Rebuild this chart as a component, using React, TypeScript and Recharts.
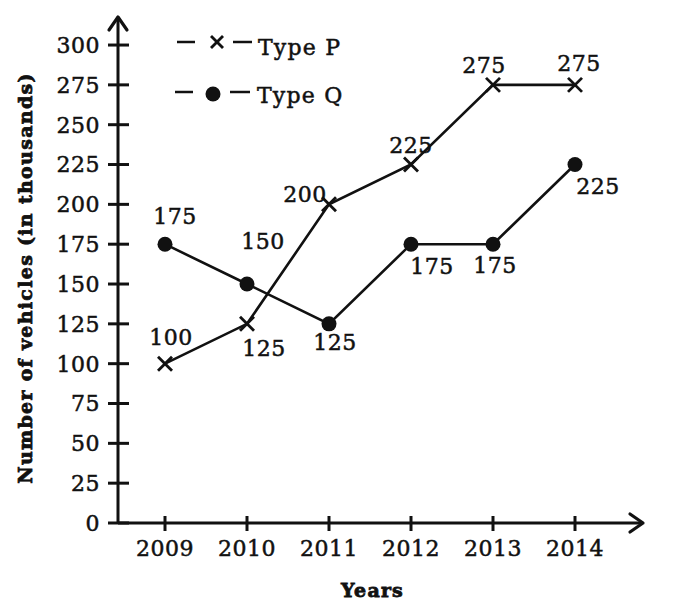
import React from 'react';
import { LineChart, Line, XAxis, YAxis, Legend, LabelList } from 'recharts';

const years = ['2009', '2010', '2011', '2012', '2013', '2014'];
const typeP = [100, 125, 200, 225, 275, 275];
const typeQ = [175, 150, 125, 175, 175, 225];
const yTicks = [0, 25, 50, 75, 100, 125, 150, 175, 200, 225, 250, 275, 300];
const seriesNames = ['Type P', 'Type Q'];

const data = years.map((year, i) => ({ year, p: typeP[i], q: typeQ[i] }));

// label placement offsets (relative to each point)
const pLabelOffsets = [
  [6, -27], [17, 24], [-24, -10], [0, -19], [-9, -20], [4, -22],
];
const qLabelOffsets = [
  [10, -28], [16, -43], [6, 18], [21, 22], [2, 21], [23, 22],
];

const INK = '#111';
const FONT = '"DejaVu Serif", serif';
const NUM_STYLE: any = {
  fontFamily: FONT,
  fontSize: 22,
  fill: INK,
  stroke: INK,
  strokeWidth: 0.5,
  letterSpacing: 0.5,
};

const YTick = (props: any) => {
  const { x, y, payload } = props;
  return (
    <g>
      <line x1={x - 10} x2={x + 11} y1={y} y2={y} stroke={INK} strokeWidth={3} />
      <text x={x - 18} y={y} dy="0.36em" textAnchor="end" {...NUM_STYLE}>
        {payload.value}
      </text>
    </g>
  );
};

const XTick = (props: any) => {
  const { x, y, payload } = props;
  return (
    <g>
      <line x1={x} x2={x} y1={y - 7} y2={y + 8} stroke={INK} strokeWidth={3} />
      <text x={x} y={y + 33} textAnchor="middle" {...NUM_STYLE}>
        {payload.value}
      </text>
    </g>
  );
};

const CrossDot = (props: any) => {
  const { cx, cy, index } = props;
  if (cx == null || cy == null) return null;
  const a = 7;
  return (
    <g key={`p-${index}`}>
      <line x1={cx - a} y1={cy - a} x2={cx + a} y2={cy + a} stroke={INK} strokeWidth={2.8} />
      <line x1={cx - a} y1={cy + a} x2={cx + a} y2={cy - a} stroke={INK} strokeWidth={2.8} />
    </g>
  );
};

const CircleDot = (props: any) => {
  const { cx, cy, index } = props;
  if (cx == null || cy == null) return null;
  return <circle key={`q-${index}`} cx={cx} cy={cy} r={7.5} fill={INK} />;
};

const makeLabel = (offsets: number[][]) => (props: any) => {
  const { x, y, value, index } = props;
  const [dx, dy] = offsets[index] || [0, -20];
  return (
    <text x={x + dx} y={y + dy} dy="0.36em" textAnchor="middle" {...NUM_STYLE}>
      {value}
    </text>
  );
};

const LegendContent = () => {
  return (
    <svg width={220} height={100} style={{ display: 'block' }}>
      <g>
        <line x1={17} x2={35} y1={22} y2={22} stroke={INK} strokeWidth={2.5} />
        <line x1={51} y1={16} x2={63} y2={28} stroke={INK} strokeWidth={2.8} />
        <line x1={51} y1={28} x2={63} y2={16} stroke={INK} strokeWidth={2.8} />
        <line x1={73} x2={92} y1={22} y2={22} stroke={INK} strokeWidth={2.5} />
        <text x={98} y={35} {...NUM_STYLE} letterSpacing={1.2}>{seriesNames[0]}</text>
      </g>
      <g>
        <line x1={15} x2={33} y1={72} y2={72} stroke={INK} strokeWidth={2.5} />
        <circle cx={53} cy={74} r={7.5} fill={INK} />
        <line x1={70} x2={90} y1={72} y2={72} stroke={INK} strokeWidth={2.5} />
        <text x={97} y={83} {...NUM_STYLE} letterSpacing={1.2}>{seriesNames[1]}</text>
      </g>
    </svg>
  );
};

const YTitle = (props: any) => {
  const { viewBox } = props;
  const cx = viewBox.x + 25;
  const cy = viewBox.y + viewBox.height / 2 + 8;
  return (
    <text x={cx} y={cy} transform={`rotate(-90 ${cx} ${cy})`} textAnchor="middle" dy="0.36em"
      fontFamily={FONT} fontWeight="bold" fontSize={19} fill={INK} stroke={INK} strokeWidth={0.8} letterSpacing={1.3}>
      Number of vehicles (in thousands)
    </text>
  );
};

const XTitle = (props: any) => {
  const { viewBox } = props;
  const cx = viewBox.x + viewBox.width / 2 - 8;
  return (
    <text x={cx} y={viewBox.y + 74} textAnchor="middle" fontFamily={FONT} fontWeight="bold" fontSize={19}
      fill={INK} stroke={INK} strokeWidth={0.8} letterSpacing={1.2}>
      Years
    </text>
  );
};

export default function App() {
  return (
    <div style={{ position: 'absolute', left: 0, top: 0, width: 673, height: 604, background: '#fff' }}>
      <svg width={0} height={0} style={{ position: 'absolute' }}>
        <defs>
          <marker id="axisArrow" viewBox="-16 -12 20 24" refX={0} refY={0} markerWidth={20} markerHeight={24}
            markerUnits="userSpaceOnUse" orient="auto-start-reverse">
            <path d="M-13,-9 L0,0 L-13,9" fill="none" stroke={INK} strokeWidth={3.2} strokeLinecap="round" strokeLinejoin="round" />
          </marker>
        </defs>
      </svg>
      <LineChart width={673} height={604} data={data} margin={{ top: 17, right: 30, bottom: 31, left: 0 }}>
        <XAxis
          dataKey="year"
          type="category"
          padding={{ left: 47, right: 68 }}
          interval={0}
          height={50}
          tickSize={0}
          tickMargin={0}
          tickLine={false}
          tick={<XTick />}
          axisLine={{ stroke: INK, strokeWidth: 3, markerEnd: 'url(#axisArrow)' } as any}
          label={<XTitle />}
        />
        <YAxis
          type="number"
          domain={[0, 317.6]}
          ticks={yTicks}
          interval={0}
          width={118}
          tickSize={0}
          tickMargin={0}
          tickLine={false}
          tick={<YTick />}
          axisLine={{ stroke: INK, strokeWidth: 3, markerStart: 'url(#axisArrow)' } as any}
          allowDataOverflow
          label={<YTitle />}
        />
        <Legend
          layout="vertical"
          align="center"
          verticalAlign="middle"
          content={<LegendContent />}
          wrapperStyle={{ position: 'absolute', left: 160, top: 20, width: 220, height: 100 }}
        />
        <Line
          name={seriesNames[0]}
          dataKey="p"
          stroke={INK}
          strokeWidth={2.6}
          dot={<CrossDot />}
          activeDot={false}
          isAnimationActive={false}
        >
          <LabelList dataKey="p" content={makeLabel(pLabelOffsets)} />
        </Line>
        <Line
          name={seriesNames[1]}
          dataKey="q"
          stroke={INK}
          strokeWidth={2.6}
          dot={<CircleDot />}
          activeDot={false}
          isAnimationActive={false}
        >
          <LabelList dataKey="q" content={makeLabel(qLabelOffsets)} />
        </Line>
      </LineChart>
    </div>
  );
}
